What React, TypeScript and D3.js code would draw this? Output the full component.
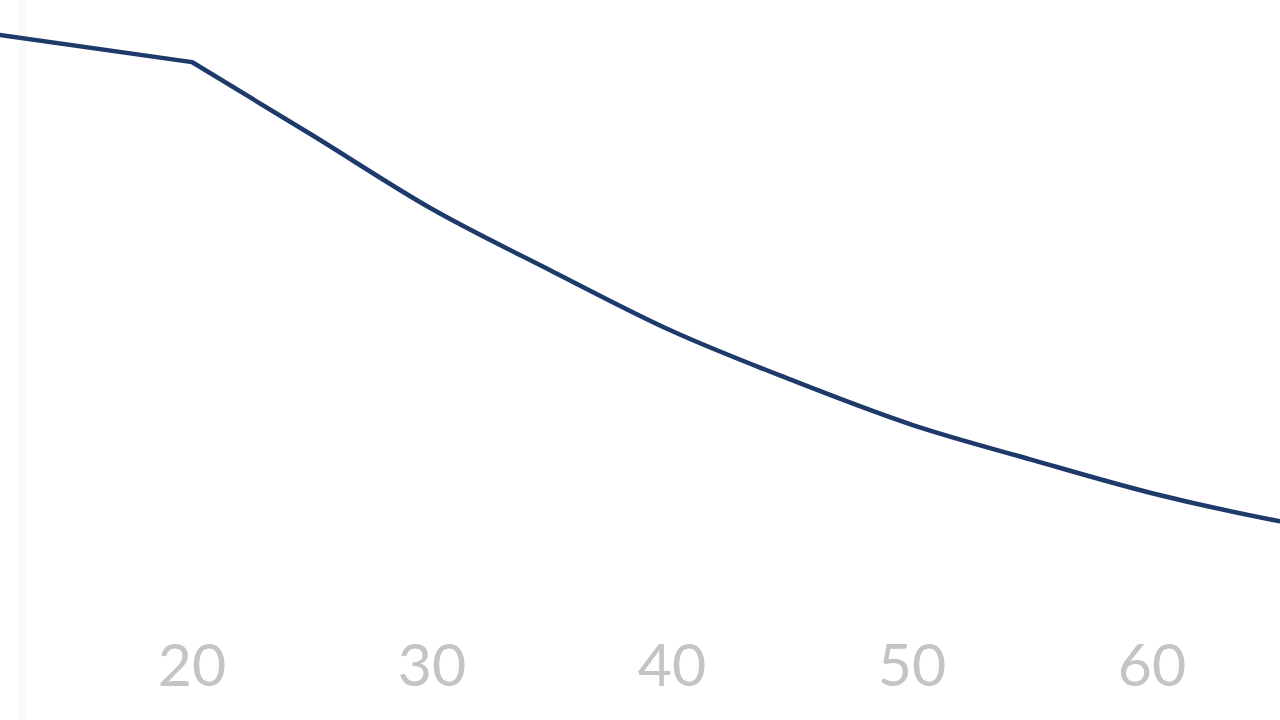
import React, { useEffect, useRef } from "react";
import * as d3 from "d3";

const xValues = [10, 20, 25, 30, 35, 40, 45, 50, 55, 60, 65, 70];
const yValues = [101.2, 95.2, 82.3, 69.2, 58.2, 47.6, 38.9, 31.0, 24.8, 18.9, 14.2, 10.6];
const tickValues = [20, 30, 40, 50, 60];
// index where the straight lead-in ends and the smooth decay begins
const kinkIndex = 1;

const W = 1280;
const H = 720;

export default function App() {
  const ref = useRef<SVGSVGElement>(null);

  useEffect(() => {
    const svg = d3.select(ref.current);
    svg.selectAll("*").remove();

    const x = d3.scaleLinear().domain([12, 65.33]).range([0, W]);
    const y = d3.scaleLinear().domain([0, 100]).range([600, 35]);

    svg.append("rect").attr("width", W).attr("height", H).attr("fill", "#ffffff");

    // faint axis line
    svg
      .append("line")
      .attr("x1", 23)
      .attr("x2", 23)
      .attr("y1", 0)
      .attr("y2", H)
      .attr("stroke", "#fafafa")
      .attr("stroke-width", 8);

    const data = xValues.map((v, i) => [v, yValues[i]] as [number, number]);
    const straight = d3
      .line<[number, number]>()
      .x((d) => x(d[0]))
      .y((d) => y(d[1]))
      .curve(d3.curveLinear);
    const smooth = d3
      .line<[number, number]>()
      .x((d) => x(d[0]))
      .y((d) => y(d[1]))
      .curve(d3.curveMonotoneX);

    const dA = straight(data.slice(0, kinkIndex + 1)) || "";
    const dB = (smooth(data.slice(kinkIndex)) || "").replace(/^M[^CLZ]*/, "");

    svg
      .append("path")
      .attr("d", dA + dB)
      .attr("fill", "none")
      .attr("stroke", "#1e3a6a")
      .attr("stroke-width", 4.5)
      .attr("stroke-linejoin", "round");

    svg
      .append("g")
      .selectAll("text")
      .data(tickValues)
      .join("text")
      .attr("x", (d) => x(d))
      .attr("y", 686)
      .attr("text-anchor", "middle")
      .attr("font-family", "Lato, 'Open Sans', sans-serif")
      .attr("font-size", 59)
      .attr("font-weight", 400)
      .attr("fill", "#c4c4c4")
      .text((d) => String(d));
  }, []);

  return (
    <svg
      ref={ref}
      width={W}
      height={H}
      style={{ position: "absolute", left: 0, top: 0, display: "block" }}
    />
  );
}
